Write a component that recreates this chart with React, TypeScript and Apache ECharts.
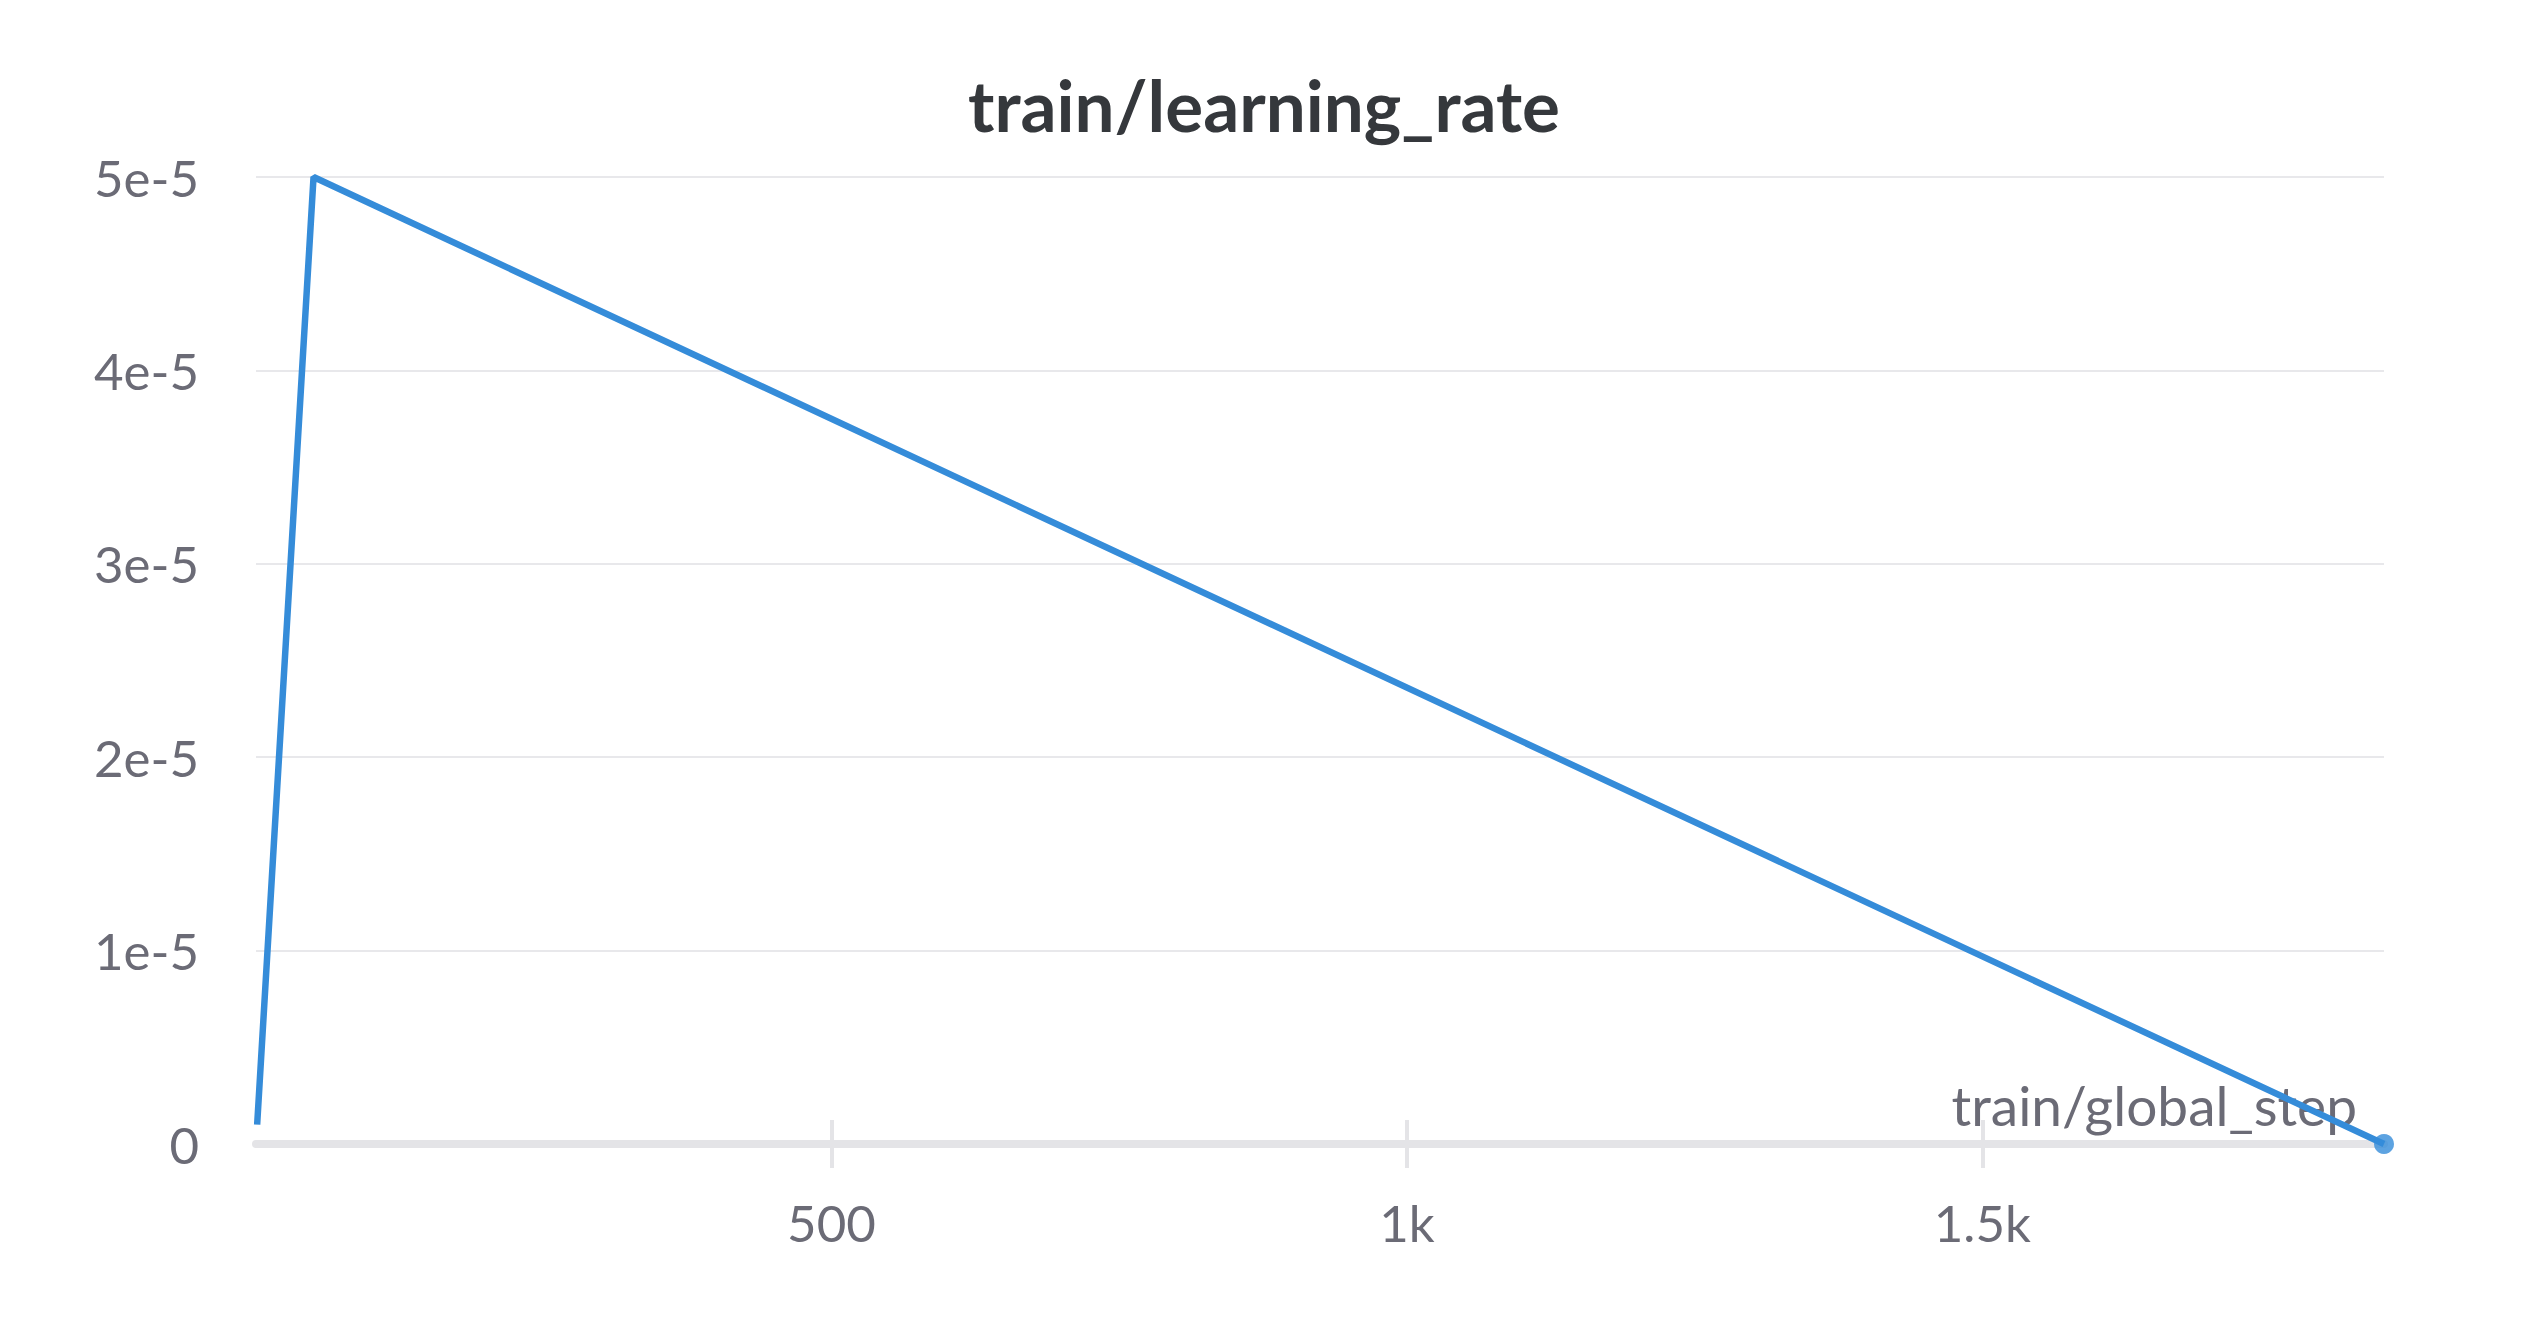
import React, { useEffect, useRef } from "react";
import * as echarts from "echarts";

const chartTitle = "train/learning_rate";
const xAxisName = "train/global_step";
const steps = [1, 50, 1849];
const learningRates = [1e-6, 5e-5, 0];
const xTickValues = [500, 1000, 1500];
const yMin = 0;
const yMax = 5e-5;
const yInterval = 1e-5;
const xMin = 0;
const xMax = 1849;

const FONT = "Lato";
const LABEL_COLOR = "#6b6b76";
const LINE_COLOR = "#358cd9";

function fmtX(v: number): string {
  if (v >= 1000) return `${+(v / 1000).toFixed(2)}k`;
  return `${v}`;
}
function fmtY(v: number): string {
  if (Math.abs(v) < 1e-12) return "0";
  return v.toExponential().replace(/\.0+e/, "e");
}

export default function App() {
  const ref = useRef<HTMLDivElement>(null);
  useEffect(() => {
    document.body.style.margin = "0";
    const chart = echarts.init(ref.current!, undefined, { renderer: "svg" });
    const lineData = steps.map((s, i) => [s, learningRates[i]]);
    const last = lineData[lineData.length - 1];
    chart.setOption({
      animation: false,
      backgroundColor: "#ffffff",
      textStyle: { fontFamily: FONT },
      title: {
        text: chartTitle,
        left: "center",
        top: 64,
        textStyle: {
          fontFamily: FONT,
          fontSize: 71,
          fontWeight: "bold",
          color: "#35383c",
        },
      },
      grid: { left: 256, right: 144, top: 177, bottom: 184, containLabel: false },
      xAxis: [
        {
          type: "value",
          min: xMin,
          max: xMax,
          interval: 500,
          position: "bottom",
          name: xAxisName,
          nameLocation: "end",
          nameGap: -27,
          nameTextStyle: {
            fontFamily: FONT,
            fontSize: 55,
            color: LABEL_COLOR,
            align: "right",
            verticalAlign: "bottom",
            padding: [0, 0, 12, 0],
          },
          axisLine: { show: true, lineStyle: { color: "#e4e4e7", width: 8 } },
          axisTick: {
            show: true,
            customValues: xTickValues,
            length: 24,
            lineStyle: { color: "#e4e4e7", width: 4 },
          },
          axisLabel: {
            customValues: xTickValues,
            formatter: fmtX,
            fontFamily: FONT,
            fontSize: 51,
            color: LABEL_COLOR,
            margin: 53,
          },
          splitLine: { show: false },
        },
        {
          type: "value",
          min: xMin,
          max: xMax,
          interval: 500,
          position: "bottom",
          axisLine: { show: false },
          axisTick: {
            show: true,
            inside: true,
            customValues: xTickValues,
            length: 24,
            lineStyle: { color: "#e4e4e7", width: 4 },
          },
          axisLabel: { show: false },
          splitLine: { show: false },
        },
      ],
      yAxis: {
        type: "value",
        min: yMin,
        max: yMax,
        interval: yInterval,
        axisLine: { show: false },
        axisTick: { show: false },
        axisLabel: {
          formatter: fmtY,
          fontFamily: FONT,
          fontSize: 51,
          color: LABEL_COLOR,
          margin: 57,
          padding: [0, 0, 6, 0],
        },
        splitLine: { show: true, lineStyle: { color: "#e8e8eb", width: 2 } },
      },
      series: [
        {
          type: "line",
          data: lineData,
          showSymbol: false,
          symbol: "none",
          lineStyle: { color: LINE_COLOR, width: 6.5 },
          z: 3,
        },
        {
          type: "scatter",
          data: [last],
          symbol: "circle",
          symbolSize: 20,
          itemStyle: { color: LINE_COLOR },
          z: 4,
        },
      ],
    });
    return () => chart.dispose();
  }, []);
  return <div ref={ref} style={{ width: 2528, height: 1328 }} />;
}
